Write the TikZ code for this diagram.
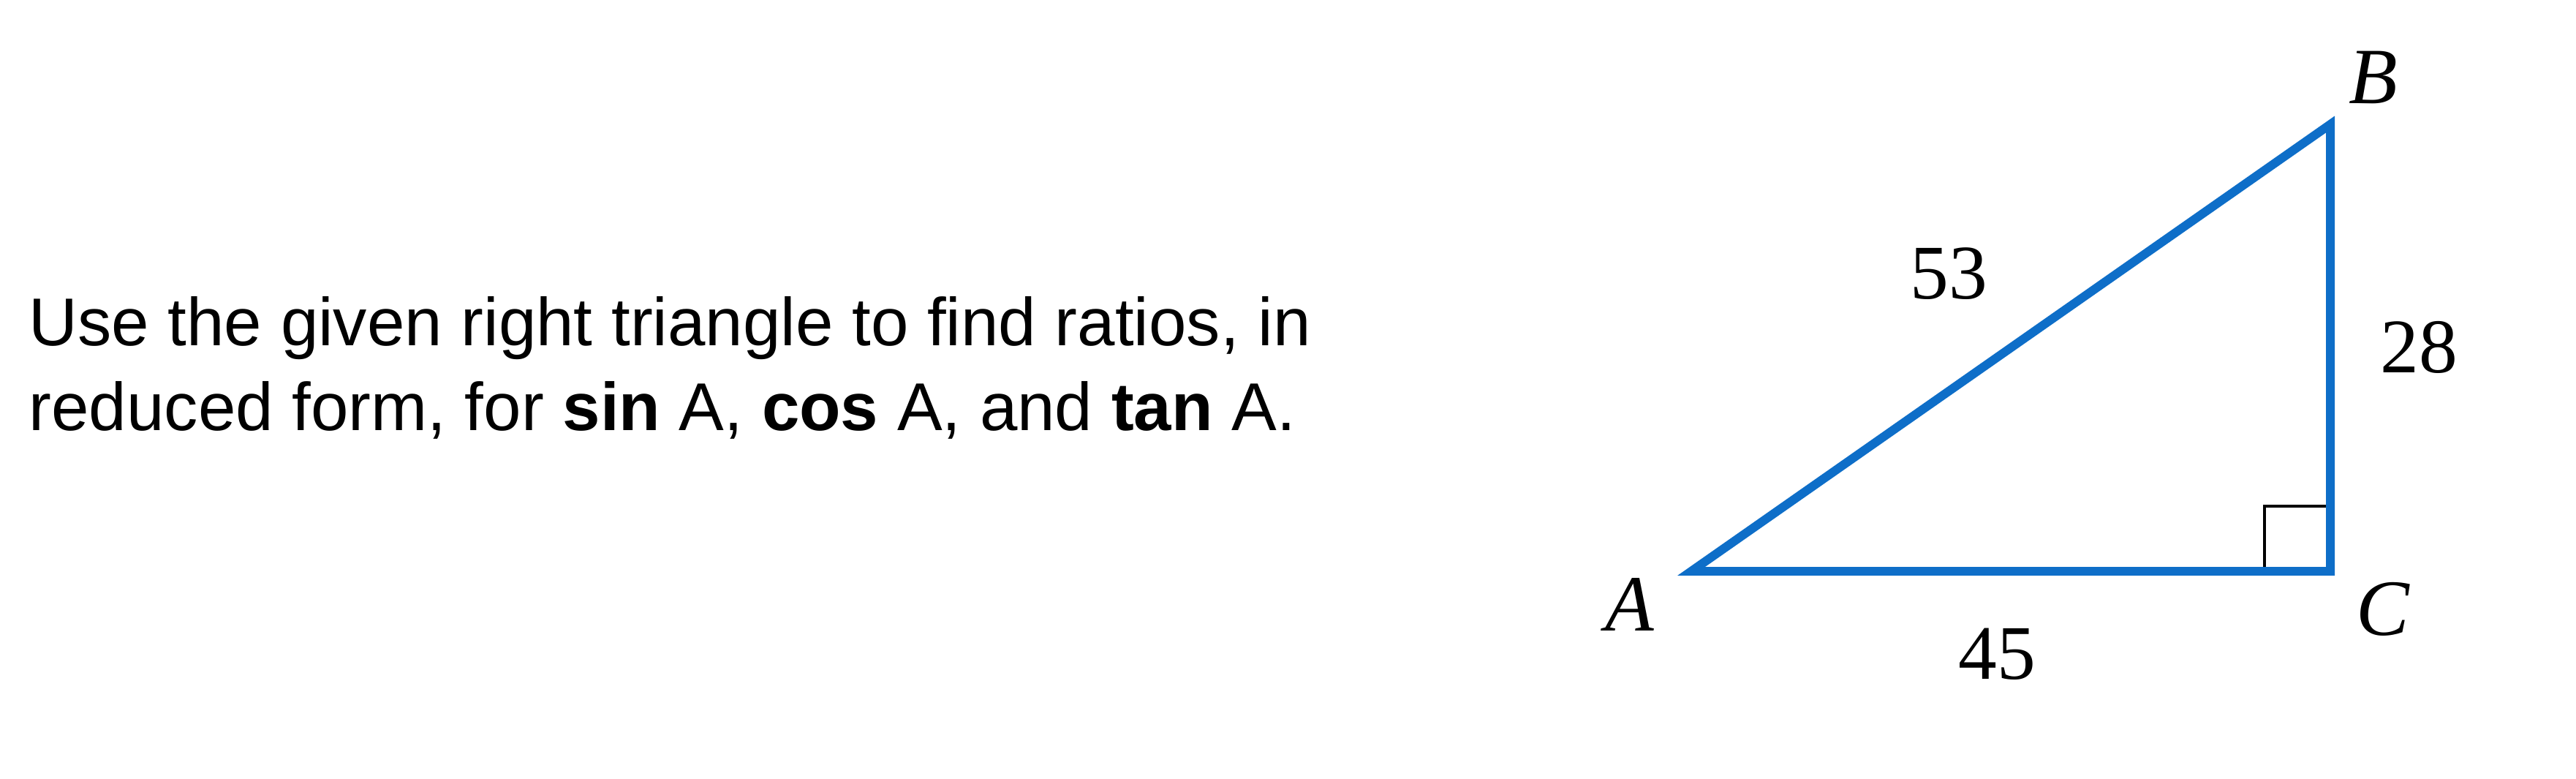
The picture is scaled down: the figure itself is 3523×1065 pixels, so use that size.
\documentclass[tikz,border=0pt]{standalone}
\usepackage{fontspec}
\setmainfont{Liberation Serif}
\setsansfont{Liberation Sans}
\usetikzlibrary{positioning}

\definecolor{sideblue}{RGB}{14,110,200}
\tikzset{
    side/.style={sideblue, line width=3.4pt},
    vertex/.style={font=\fontsize{31}{31}\selectfont\itshape},
    length/.style={font=\fontsize{30}{30}\selectfont},
    question/.style={font=\sffamily\fontsize{26.3}{33}\selectfont, inner sep=0pt, anchor=base west}
}

\begin{document}
\begin{tikzpicture}[x=0.01cm, y=-0.01cm]
    \useasboundingbox (0,0) rectangle (3523,1065);

    \node[question](q1) at (39,473) {Use the given right triangle to find ratios, in};
    \node[question](q2) at (39,589) {reduced form, for \textbf{sin} A, \textbf{cos} A, and \textbf{tan} A.};

    \coordinate (A) at (2313,781);
    \coordinate (C) at (3187,781);
    \coordinate (B) at (3187,170);

    \draw[black, line width=1.4pt](C)++(-90,0)--++(0,-89)--++(90,0);
    \draw[side, line join=miter](B)--(A)--(C)--cycle;

    \node[vertex](lA) at (2229,827) {A};
    \node[vertex](lB) at (3246,106) {B};
    \node[vertex](lC) at (3259,833) {C};
    \node[length](lAB) at (2665,374) {53};
    \node[length](lBC) at (3308,475) {28};
    \node[length](lAC) at (2731,894) {45};
\end{tikzpicture}
\end{document}
